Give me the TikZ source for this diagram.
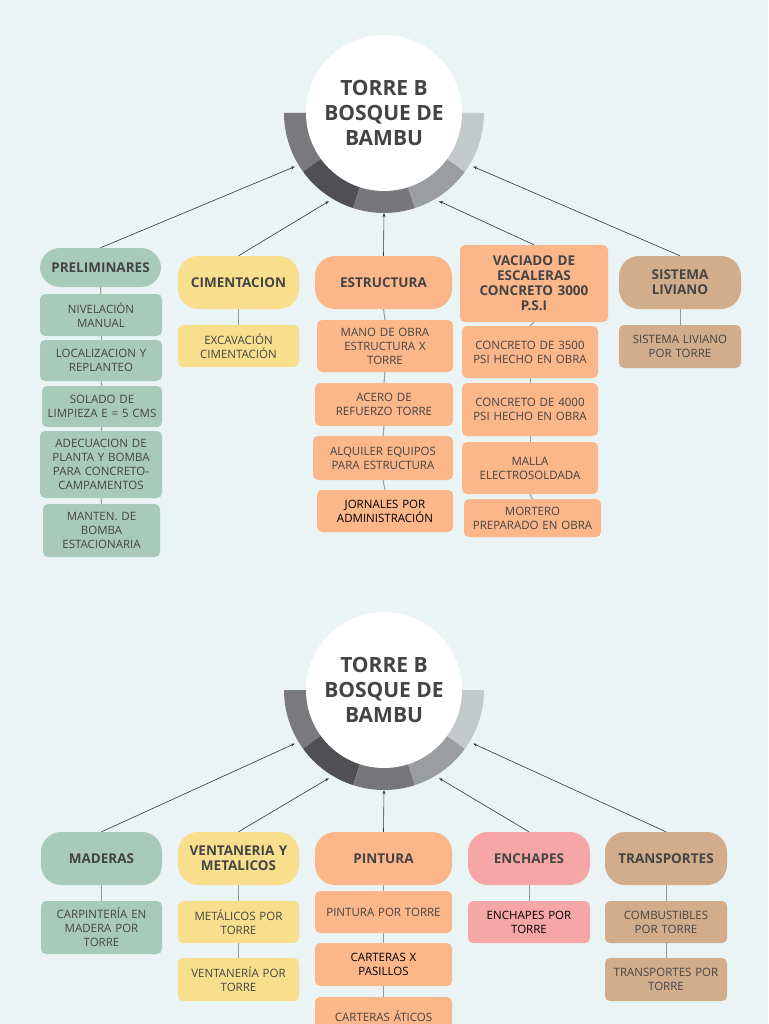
\documentclass[tikz,border=0pt]{standalone}
\usepackage{fontspec}
\setmainfont{Open Sans}
\usetikzlibrary{arrows.meta}
\definecolor{bg}{HTML}{EAF4F4}
\definecolor{gr}{HTML}{A8CABB}
\definecolor{ye}{HTML}{F8DF8E}
\definecolor{orr}{HTML}{FBB68A}
\definecolor{pk}{HTML}{F7A6A6}
\definecolor{tn}{HTML}{D1AD8C}
\definecolor{tx}{HTML}{444444}
\definecolor{r1}{HTML}{7A7A7E}
\definecolor{r2}{HTML}{505054}
\definecolor{r3}{HTML}{77777B}
\definecolor{r4}{HTML}{9A9EA0}
\definecolor{r5}{HTML}{C3C9CB}
\newcommand\bx[7]{\node[#2,minimum width={(#4-#3)*1pt},minimum height={(#6-#5)*1pt},text width={(#4-#3-8)*1pt}] (#1) at ({(#3+#4)/2},{-(#5+#6)/2}) {#7};}
\tikzset{
 head/.style={rounded corners=20pt,align=center,inner sep=0pt,text=tx,font=\fontsize{13.5}{15}\selectfont\bfseries},
 sub/.style={rounded corners=5pt,align=center,inner sep=0pt,text=tx,font=\fontsize{11.5}{14}\selectfont},
 link/.style={draw=black!80,line width=0.6pt,{Stealth[length=4pt,width=3pt]}-},
 vl/.style={draw=gray!80,line width=1pt},
 ttl/.style={circle,fill=white,minimum size=156pt,align=center,text=tx,font=\fontsize{21}{25}\selectfont\bfseries}
}
\newcommand\tower[2]{% name, y center
 \foreach \a/\c in {180/r1,216/r2,252/r3,288/r4,324/r5}{
  \fill[\c] (384,-#2) ++(\a:100) arc[start angle=\a,end angle=\a+36,radius=100] -- (384,-#2) -- cycle;}
 \node[ttl] (#1) at (384,-#2) {TORRE B\\BOSQUE DE\\BAMBU};
 \coordinate (#1a) at ($(384,-#2)+(211:104)$);
 \coordinate (#1b) at ($(384,-#2)+(238:104)$);
 \coordinate (#1c) at ($(384,-#2)+(270:100)$);
 \coordinate (#1d) at ($(384,-#2)+(302:104)$);
 \coordinate (#1e) at ($(384,-#2)+(329:104)$);
}
\usetikzlibrary{calc}
\begin{document}
\begin{tikzpicture}[x=1pt,y=1pt]
\fill[bg] (0,0) rectangle (768,-1024);
\useasboundingbox (0,0) rectangle (768,-1024);
\tower{T}{113}
\tower{U}{690}
% top row
\bx{p}{head,fill=gr}{40}{161}{248}{287}{PRELIMINARES}
\bx{p1}{sub,fill=gr}{40}{162}{294}{336}{NIVELACIÓN\\MANUAL}
\bx{p2}{sub,fill=gr}{40}{162}{340}{381}{LOCALIZACION Y\\REPLANTEO}
\bx{p3}{sub,fill=gr}{42}{162}{386}{427}{SOLADO DE\\LIMPIEZA E = 5 CMS}
\bx{p4}{sub,fill=gr}{40}{162}{431}{498}{ADECUACION DE\\PLANTA Y BOMBA\\PARA CONCRETO-\\CAMPAMENTOS}
\bx{p5}{sub,fill=gr}{43}{160}{504}{557}{MANTEN. DE\\BOMBA\\ESTACIONARIA}
\bx{c}{head,fill=ye}{178}{299}{256}{309}{CIMENTACION}
\bx{c1}{sub,fill=ye}{178}{299}{325}{367}{EXCAVACIÓN\\CIMENTACIÓN}
\bx{e}{head,fill=orr}{315}{452}{256}{309}{ESTRUCTURA}
\bx{e1}{sub,fill=orr}{317}{453}{320}{372}{MANO DE OBRA\\ESTRUCTURA X\\TORRE}
\bx{e2}{sub,fill=orr}{315}{453}{383}{426}{ACERO DE\\REFUERZO TORRE}
\bx{e3}{sub,fill=orr}{313}{453}{436}{480}{ALQUILER EQUIPOS\\PARA ESTRUCTURA}
\bx{e4}{sub,fill=orr,text=black}{317}{453}{490}{532}{JORNALES POR\\ADMINISTRACIÓN}
\bx{v}{head,fill=orr,rounded corners=5pt}{460}{608}{245}{322}{VACIADO DE\\ESCALERAS\\CONCRETO 3000\\P.S.I}
\bx{v1}{sub,fill=orr}{462}{598}{326}{378}{CONCRETO DE 3500\\PSI HECHO EN OBRA}
\bx{v2}{sub,fill=orr}{462}{598}{383}{436}{CONCRETO DE 4000\\PSI HECHO EN OBRA}
\bx{v3}{sub,fill=orr}{462}{598}{442}{494}{MALLA\\ELECTROSOLDADA}
\bx{v4}{sub,fill=orr}{464}{601}{499}{537}{MORTERO\\PREPARADO EN OBRA}
\bx{s}{head,fill=tn}{619}{741}{256}{309}{SISTEMA\\LIVIANO}
\bx{s1}{sub,fill=tn}{619}{741}{325}{368}{SISTEMA LIVIANO\\POR TORRE}
% bottom row
\bx{m}{head,fill=gr}{41}{162}{832}{885}{MADERAS}
\bx{m1}{sub,fill=gr}{41}{162}{901}{954}{CARPINTERÍA EN\\MADERA POR\\TORRE}
\bx{w}{head,fill=ye}{178}{299}{832}{885}{VENTANERIA Y\\METALICOS}
\bx{w1}{sub,fill=ye}{178}{299}{901}{943}{METÁLICOS POR\\TORRE}
\bx{w2}{sub,fill=ye}{178}{299}{958}{1001}{VENTANERÍA POR\\TORRE}
\bx{n}{head,fill=orr}{315}{452}{832}{885}{PINTURA}
\bx{n1}{sub,fill=orr}{315}{452}{891}{933}{PINTURA POR TORRE}
\bx{n2}{sub,fill=orr,text=black}{315}{452}{943}{986}{CARTERAS X\\PASILLOS}
\bx{n3}{sub,fill=orr}{315}{452}{997}{1050}{CARTERAS ÁTICOS\\\phantom{X}}
\bx{h}{head,fill=pk}{468}{590}{832}{885}{ENCHAPES}
\bx{h1}{sub,fill=pk,text=black}{468}{590}{901}{943}{ENCHAPES POR\\TORRE}
\bx{t}{head,fill=tn}{605}{727}{832}{885}{TRANSPORTES}
\bx{t1}{sub,fill=tn}{605}{727}{901}{943}{COMBUSTIBLES\\POR TORRE}
\bx{t2}{sub,fill=tn}{605}{727}{958}{1001}{TRANSPORTES POR\\TORRE}
% connectors
\foreach \a/\b in {p/p1,p1/p2,p2/p3,p3/p4,p4/p5,c/c1,e/e1,e1/e2,e2/e3,e3/e4,v/v1,v1/v2,v2/v3,v3/v4,s/s1,m/m1,w/w1,w1/w2,n/n1,n1/n2,n2/n3,h/h1,t/t1,t1/t2}
 \draw[vl] (\a.south) -- (\b.north);
\draw[link] (Ta) -- (p.north);
\draw[link] (Tb) -- (c.north);
\draw[link] (Tc) -- (e.north);
\draw[link] (Td) -- (v.north);
\draw[link] (Te) -- (s.north);
\draw[link] (Ua) -- (m.north);
\draw[link] (Ub) -- (w.north);
\draw[link] (Uc) -- (n.north);
\draw[link] (Ud) -- (h.north);
\draw[link] (Ue) -- (t.north);
\end{tikzpicture}
\end{document}
